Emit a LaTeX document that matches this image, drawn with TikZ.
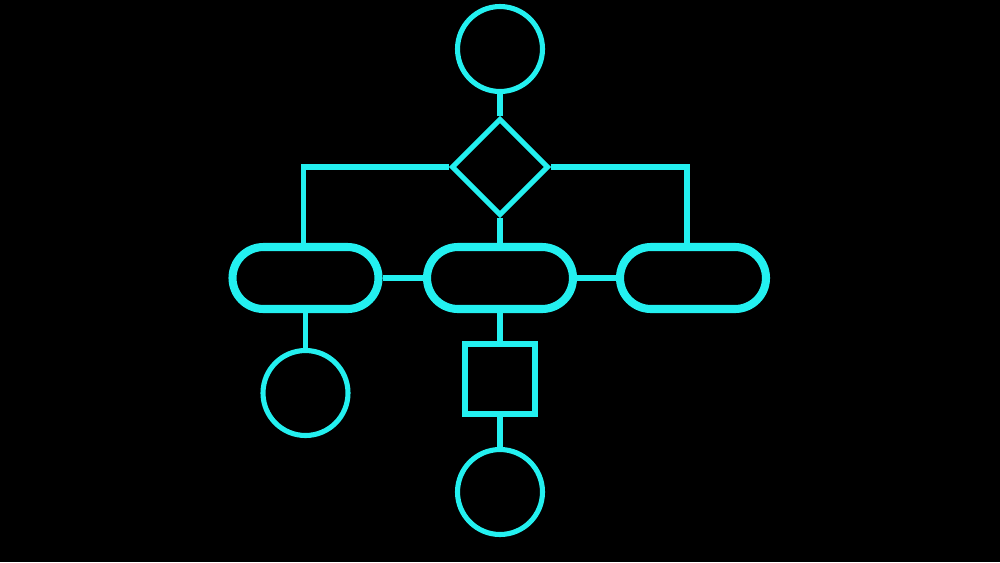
\documentclass[tikz,border=0pt]{standalone}
\usetikzlibrary{shapes.geometric}
\definecolor{cy}{RGB}{35,240,240}
\begin{document}
\begin{tikzpicture}[x=0.02cm,y=-0.02cm,
  conn/.style={draw=cy,line width=2.9pt},
  circ/.style={circle,draw=cy,line width=2.9pt,minimum size=1.7cm,inner sep=0pt},
  pill/.style={rectangle,rounded corners=0.62cm,draw=cy,line width=4.6pt,minimum width=2.92cm,minimum height=1.24cm,inner sep=0pt},
  dia/.style={diamond,aspect=1,draw=cy,line width=2.9pt,minimum width=1.94cm,minimum height=1.94cm,inner sep=0pt},
  sqbox/.style={rectangle,draw=cy,line width=2.9pt,minimum size=1.4cm,inner sep=0pt}]
\fill[black] (0,0) rectangle (1000,562);
\useasboundingbox (0,0) rectangle (1000,562);
\node[circ] (c1) at (500,49) {};
\node[dia] (d) at (500,167) {};
\node[pill] (p1) at (305.5,278) {};
\node[pill] (p2) at (500,278) {};
\node[pill] (p3) at (693,278) {};
\node[circ] (c2) at (305.5,393) {};
\node[sqbox] (s) at (500,379) {};
\node[circ] (c3) at (500,492) {};
\coordinate (p1t) at ([xshift=-0.04cm]p1.north);
\coordinate (p3t) at ([xshift=-0.12cm]p3.north);
\draw[conn] (c1.south) -- (d.north);
\draw[conn] (d.west) -| (p1t);
\draw[conn] (d.east) -| (p3t);
\draw[conn] (d.south) -- (p2.north);
\draw[conn] (p1.east) -- (p2.west);
\draw[conn] (p2.east) -- (p3.west);
\draw[conn] (p1.south) -- (c2.north);
\draw[conn] (p2.south) -- (s.north);
\draw[conn] (s.south) -- (c3.north);
\end{tikzpicture}
\end{document}
